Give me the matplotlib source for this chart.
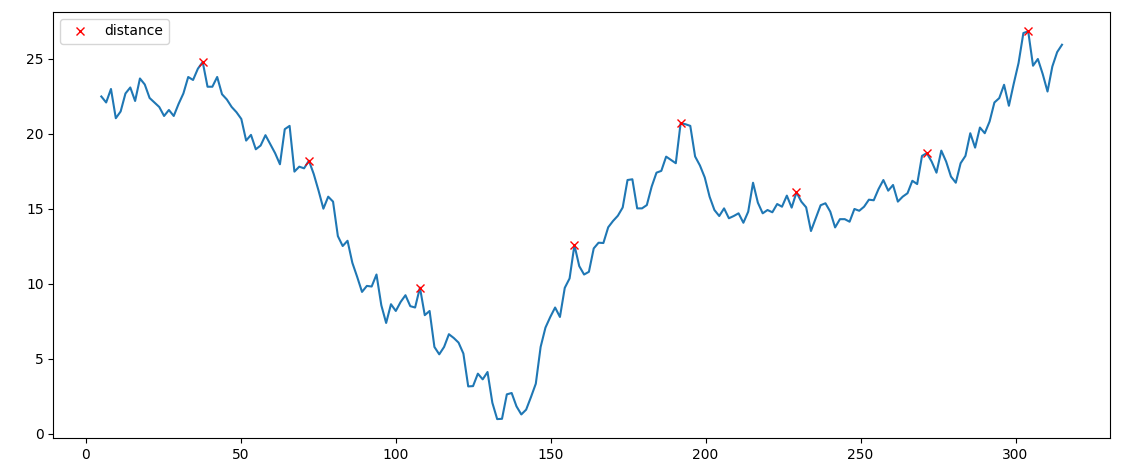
import matplotlib
matplotlib.use("Agg")
import matplotlib.pyplot as plt
import numpy as np

# distance series, 200 samples from index 5 to 315
distance = [
    22.5, 22.1, 23.0, 21.05, 21.5, 22.7, 23.1, 22.2, 23.7, 23.3,
    22.4, 22.1, 21.8, 21.2, 21.6, 21.2, 22.0, 22.7, 23.8, 23.6,
    24.35, 24.8, 23.15, 23.15, 23.8, 22.65, 22.3, 21.8, 21.45, 21.0,
    19.56, 19.94, 18.98, 19.23, 19.92, 19.32, 18.72, 17.98, 20.32, 20.54,
    17.49, 17.82, 17.71, 18.22, 17.33, 16.22, 15.02, 15.82, 15.49, 13.19,
    12.53, 12.88, 11.41, 10.47, 9.47, 9.87, 9.83, 10.63, 8.58, 7.40,
    8.65, 8.20, 8.80, 9.25, 8.52, 8.43, 9.76, 7.92, 8.20, 5.80,
    5.31, 5.80, 6.65, 6.40, 6.09, 5.36, 3.17, 3.19, 4.02, 3.64,
    4.13, 2.08, 0.99, 1.01, 2.64, 2.73, 1.84, 1.30, 1.62, 2.46,
    3.35, 5.80, 7.09, 7.80, 8.43, 7.80, 9.74, 10.37, 12.59, 11.19,
    10.63, 10.81, 12.37, 12.75, 12.73, 13.78, 14.2, 14.55, 15.1, 16.93,
    16.98, 15.04, 15.04, 15.26, 16.49, 17.42, 17.54, 18.49, 18.27, 18.05,
    20.72, 20.65, 20.54, 18.5, 17.9, 17.1, 15.82, 14.93, 14.53, 15.04,
    14.38, 14.53, 14.71, 14.08, 14.82, 16.75, 15.42, 14.71, 14.93, 14.78,
    15.33, 15.15, 15.89, 15.09, 16.11, 15.49, 15.11, 13.53, 14.4, 15.25,
    15.38, 14.82, 13.77, 14.32, 14.32, 14.15, 15.0, 14.88, 15.15, 15.62,
    15.58, 16.33, 16.93, 16.22, 16.6, 15.49, 15.82, 16.05, 16.88, 16.66,
    18.54, 18.72, 18.16, 17.42, 18.89, 18.16, 17.16, 16.75, 18.05, 18.54,
    20.05, 19.09, 20.43, 20.05, 20.83, 22.1, 22.39, 23.28, 21.88, 23.35,
    24.73, 26.73, 26.84, 24.55, 25.0, 24.0, 22.83, 24.5, 25.46, 25.95,
]
x = np.linspace(5, 315, len(distance))

# detected peaks (sample positions)
peak_idx = [21, 43, 66, 98, 120, 144, 171, 192]

x = np.asarray(x)
distance = np.asarray(distance)

fig, ax = plt.subplots(figsize=(11.29, 4.76), dpi=100)
fig.subplots_adjust(left=0.0472, right=0.9832, bottom=0.0788, top=0.9748)

ax.plot(x, distance)
ax.plot(x[peak_idx], distance[peak_idx], "x", color="red", label="distance")
ax.legend(loc="upper left")

fig.savefig("out.png")
